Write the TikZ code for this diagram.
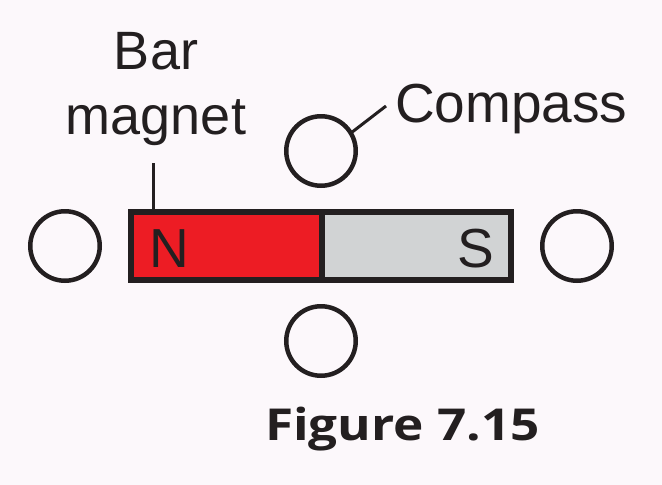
\documentclass[tikz,border=0pt]{standalone}
\usepackage{fontspec}
\setmainfont{Liberation Sans}
\newfontfamily\figfont{Open Sans}
\definecolor{magred}{RGB}{237,28,36}
\definecolor{magray}{RGB}{209,211,212}
\definecolor{ink}{RGB}{35,31,32}
\definecolor{paper}{RGB}{252,248,251}
\tikzset{
  pole/.style={draw=ink, line width=6pt, inner sep=0pt, outer sep=0pt,
    minimum height=68pt},
  compass/.style={draw=ink, circle, line width=4.5pt, inner sep=0pt,
    outer sep=0pt, minimum size=69.5pt},
  leader/.style={draw=ink, line width=3pt},
  label/.style={inner sep=0pt, text=ink, font=\fontsize{54}{65}\selectfont}
}
\begin{document}
\begin{tikzpicture}[x=1pt, y=-1pt]
\fill[paper] (0,0) rectangle (662,485);
\useasboundingbox (0,0) rectangle (662,485);

\node[pole, fill=magred, minimum width=191pt] (north) at (226.5,246) {};
\node[pole, fill=magray, minimum width=189pt] (south) at (416.5,246) {};
\node[label, anchor=base west, font=\fontsize{55}{60}\selectfont] (nlet) at (149,267) {N};
\node[label, anchor=base east, font=\fontsize{55}{60}\selectfont] (slet) at (494,267) {S};

\node[compass] (cleft) at (65,246) {};
\node[compass] (cright) at (577,246) {};
\node[compass] (ctop) at (321,151) {};
\node[compass] (cbot) at (321,341) {};

\node[label, align=center, anchor=base] (barlabel) at (156,134) {Bar\\magnet};
\coordinate (barend) at (153,163);
\draw[leader] (barend) -- (barend |- north.north);

\node[label, anchor=base west, font=\fontsize{55}{65}\selectfont] (complabel) at (395,122) {Compass};
\coordinate (compend) at (386,106);
\draw[leader] (ctop.31) -- (compend);

\node[inner sep=0pt, text=ink, anchor=base west,
  font=\figfont\bfseries\fontsize{44}{50}\selectfont] (caption) at (265,440)
  {\scalebox{1.165}[1]{Figure 7.15}};
\end{tikzpicture}
\end{document}
